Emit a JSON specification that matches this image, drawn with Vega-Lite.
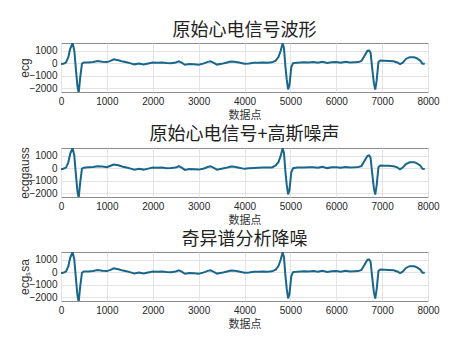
{
  "$schema": "https://vega.github.io/schema/vega-lite/v6.json",
  "background": "white",
  "padding": {"left": 17, "top": 21, "right": 5, "bottom": 0},
  "spacing": 4,
  "datasets": {
    "ecg": [
      {"x": 0, "a": -80, "b": -90, "c": -70},
      {"x": 50, "a": -60, "b": -50, "c": -60},
      {"x": 110, "a": 50, "b": 40, "c": 50},
      {"x": 160, "a": 470, "b": 460, "c": 470},
      {"x": 200, "a": 1130, "b": 1140, "c": 1130},
      {"x": 254, "a": 1600, "b": 1600, "c": 1600},
      {"x": 290, "a": 1000, "b": 1000, "c": 1000},
      {"x": 327, "a": -580, "b": -600, "c": -580},
      {"x": 356, "a": -1760, "b": -1760, "c": -1760},
      {"x": 385, "a": -2400, "b": -2400, "c": -2400},
      {"x": 420, "a": -1100, "b": -1100, "c": -1100},
      {"x": 457, "a": -50, "b": -40, "c": -50},
      {"x": 494, "a": 40, "b": 30, "c": 40},
      {"x": 600, "a": 50, "b": 60, "c": 50},
      {"x": 700, "a": 80, "b": 90, "c": 80},
      {"x": 800, "a": 160, "b": 150, "c": 160},
      {"x": 900, "a": 110, "b": 120, "c": 110},
      {"x": 1000, "a": 80, "b": 70, "c": 80},
      {"x": 1080, "a": 180, "b": 190, "c": 180},
      {"x": 1150, "a": 300, "b": 290, "c": 300},
      {"x": 1250, "a": 220, "b": 230, "c": 220},
      {"x": 1350, "a": 120, "b": 110, "c": 120},
      {"x": 1450, "a": 40, "b": 30, "c": 40},
      {"x": 1500, "a": 0, "b": -20, "c": 0},
      {"x": 1600, "a": -100, "b": -130, "c": -110},
      {"x": 1700, "a": -40, "b": -60, "c": -40},
      {"x": 1800, "a": -110, "b": -120, "c": -110},
      {"x": 1900, "a": -30, "b": -40, "c": -30},
      {"x": 2000, "a": 50, "b": 40, "c": 50},
      {"x": 2100, "a": 30, "b": 20, "c": 30},
      {"x": 2200, "a": 40, "b": 50, "c": 40},
      {"x": 2300, "a": 0, "b": -10, "c": 0},
      {"x": 2400, "a": -10, "b": 0, "c": -10},
      {"x": 2500, "a": 50, "b": 40, "c": 50},
      {"x": 2570, "a": 140, "b": 150, "c": 140},
      {"x": 2630, "a": 40, "b": 30, "c": 40},
      {"x": 2700, "a": -130, "b": -140, "c": -130},
      {"x": 2800, "a": -70, "b": -80, "c": -70},
      {"x": 2900, "a": -100, "b": -90, "c": -100},
      {"x": 3000, "a": -130, "b": -120, "c": -130},
      {"x": 3100, "a": -40, "b": -50, "c": -40},
      {"x": 3200, "a": 100, "b": 90, "c": 100},
      {"x": 3260, "a": 140, "b": 150, "c": 140},
      {"x": 3330, "a": 20, "b": 10, "c": 20},
      {"x": 3400, "a": -120, "b": -130, "c": -120},
      {"x": 3500, "a": -60, "b": -50, "c": -60},
      {"x": 3600, "a": 30, "b": 20, "c": 30},
      {"x": 3700, "a": 130, "b": 120, "c": 130},
      {"x": 3780, "a": 100, "b": 110, "c": 100},
      {"x": 3880, "a": 40, "b": 30, "c": 40},
      {"x": 4000, "a": -50, "b": -60, "c": -50},
      {"x": 4100, "a": -30, "b": -20, "c": -30},
      {"x": 4200, "a": 20, "b": 10, "c": 20},
      {"x": 4300, "a": 20, "b": 30, "c": 20},
      {"x": 4400, "a": 50, "b": 40, "c": 50},
      {"x": 4500, "a": 30, "b": 40, "c": 30},
      {"x": 4600, "a": 60, "b": 50, "c": 60},
      {"x": 4680, "a": 200, "b": 210, "c": 200},
      {"x": 4740, "a": 480, "b": 470, "c": 480},
      {"x": 4790, "a": 1000, "b": 990, "c": 1000},
      {"x": 4830, "a": 1560, "b": 1560, "c": 1560},
      {"x": 4860, "a": 1200, "b": 1200, "c": 1200},
      {"x": 4890, "a": -200, "b": -210, "c": -200},
      {"x": 4920, "a": -1300, "b": -1300, "c": -1300},
      {"x": 4950, "a": -2100, "b": -2100, "c": -2100},
      {"x": 4980, "a": -1750, "b": -1750, "c": -1750},
      {"x": 5020, "a": -320, "b": -330, "c": -320},
      {"x": 5060, "a": 0, "b": -10, "c": 0},
      {"x": 5150, "a": 30, "b": 40, "c": 30},
      {"x": 5300, "a": 60, "b": 50, "c": 60},
      {"x": 5400, "a": 50, "b": 60, "c": 50},
      {"x": 5500, "a": 80, "b": 70, "c": 80},
      {"x": 5600, "a": 20, "b": 30, "c": 20},
      {"x": 5700, "a": 100, "b": 110, "c": 100},
      {"x": 5800, "a": 10, "b": 0, "c": 10},
      {"x": 5900, "a": 60, "b": 70, "c": 60},
      {"x": 6000, "a": 80, "b": 70, "c": 80},
      {"x": 6100, "a": 20, "b": 30, "c": 20},
      {"x": 6200, "a": 100, "b": 90, "c": 100},
      {"x": 6300, "a": 40, "b": 50, "c": 40},
      {"x": 6400, "a": 70, "b": 60, "c": 70},
      {"x": 6480, "a": 80, "b": 90, "c": 80},
      {"x": 6550, "a": 170, "b": 160, "c": 170},
      {"x": 6620, "a": 600, "b": 610, "c": 600},
      {"x": 6680, "a": 980, "b": 970, "c": 980},
      {"x": 6720, "a": 1000, "b": 1010, "c": 1000},
      {"x": 6750, "a": 800, "b": 800, "c": 800},
      {"x": 6780, "a": -300, "b": -310, "c": -300},
      {"x": 6820, "a": -1600, "b": -1600, "c": -1600},
      {"x": 6850, "a": -2100, "b": -2100, "c": -2100},
      {"x": 6880, "a": -1400, "b": -1400, "c": -1400},
      {"x": 6920, "a": 80, "b": 70, "c": 80},
      {"x": 6960, "a": 200, "b": 210, "c": 200},
      {"x": 7050, "a": 190, "b": 180, "c": 190},
      {"x": 7150, "a": 170, "b": 180, "c": 170},
      {"x": 7250, "a": 150, "b": 140, "c": 150},
      {"x": 7330, "a": 50, "b": 60, "c": 50},
      {"x": 7390, "a": -80, "b": -90, "c": -80},
      {"x": 7450, "a": 40, "b": 50, "c": 40},
      {"x": 7520, "a": 330, "b": 320, "c": 330},
      {"x": 7600, "a": 470, "b": 460, "c": 470},
      {"x": 7700, "a": 460, "b": 470, "c": 460},
      {"x": 7760, "a": 380, "b": 370, "c": 380},
      {"x": 7830, "a": 200, "b": 210, "c": 200},
      {"x": 7880, "a": -50, "b": -60, "c": -50},
      {"x": 7930, "a": -60, "b": -70, "c": -60}
    ]
  },
  "config": {
    "view": {"stroke": "#8c8c8c", "strokeWidth": 1},
    "title": {"font": "Noto Sans CJK SC", "fontSize": 18, "fontWeight": "normal", "color": "#222222", "anchor": "middle", "frame": "group", "offset": 3},
    "axis": {
      "labelFont": "Liberation Sans",
      "labelFontSize": 10,
      "labelColor": "#262626",
      "titleFontWeight": "normal",
      "titleColor": "#333333",
      "gridColor": "#e3e3e3",
      "domain": false,
      "ticks": false,
      "labelFlush": false,
      "format": "d"
    },
    "axisX": {"labelPadding": 4, "titleFont": "Noto Sans CJK SC", "titleFontSize": 11, "titlePadding": 3},
    "axisY": {"labelPadding": 4, "titleFont": "Liberation Sans", "titleFontSize": 12, "titleX": -30}
  },
  "vconcat": [
    {
      "title": "原始心电信号波形",
      "width": 367, "height": 49,
      "data": {"name": "ecg"},
      "mark": {"type": "line", "color": "#18668c", "strokeWidth": 2, "clip": true},
      "encoding": {
        "x": {"field": "x", "type": "quantitative", "scale": {"domain": [0, 8000], "nice": false}, "axis": {"title": "数据点", "values": [0, 1000, 2000, 3000, 4000, 5000, 6000, 7000, 8000]}},
        "y": {"field": "a", "type": "quantitative", "scale": {"domain": [-2300, 1600], "nice": false, "zero": false}, "axis": {"title": "ecg", "values": [-2000, -1000, 0, 1000]}}
      }
    },
    {
      "title": "原始心电信号+高斯噪声",
      "width": 367, "height": 49,
      "data": {"name": "ecg"},
      "mark": {"type": "line", "color": "#18668c", "strokeWidth": 2, "clip": true},
      "encoding": {
        "x": {"field": "x", "type": "quantitative", "scale": {"domain": [0, 8000], "nice": false}, "axis": {"title": "数据点", "values": [0, 1000, 2000, 3000, 4000, 5000, 6000, 7000, 8000]}},
        "y": {"field": "b", "type": "quantitative", "scale": {"domain": [-2300, 1600], "nice": false, "zero": false}, "axis": {"title": "ecggauss", "values": [-2000, -1000, 0, 1000]}}
      }
    },
    {
      "title": "奇异谱分析降噪",
      "width": 367, "height": 49,
      "data": {"name": "ecg"},
      "mark": {"type": "line", "color": "#18668c", "strokeWidth": 2, "clip": true},
      "encoding": {
        "x": {"field": "x", "type": "quantitative", "scale": {"domain": [0, 8000], "nice": false}, "axis": {"title": "数据点", "values": [0, 1000, 2000, 3000, 4000, 5000, 6000, 7000, 8000]}},
        "y": {"field": "c", "type": "quantitative", "scale": {"domain": [-2300, 1600], "nice": false, "zero": false}, "axis": {"title": "ecgₛsa", "values": [-2000, -1000, 0, 1000]}}
      }
    }
  ]
}
